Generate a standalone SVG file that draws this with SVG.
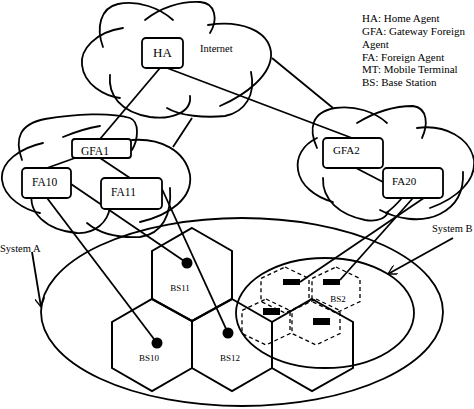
<svg xmlns="http://www.w3.org/2000/svg" width="474" height="409" viewBox="0 0 474 409">
<defs>
<style>
.c{fill:none;stroke:#000;stroke-width:1.8;stroke-linecap:round}
.ln{fill:none;stroke:#000;stroke-width:1.8}
.box{fill:#fff;stroke:#000;stroke-width:1.8}
.hex{fill:none;stroke:#000;stroke-width:2;stroke-linejoin:miter}
.dh{fill:none;stroke:#000;stroke-width:1.3;stroke-dasharray:4 3}
.t{font-family:"Liberation Serif","Times New Roman",serif;fill:#000}
.mt{fill:#000}
</style>
<marker id="oa" viewBox="0 0 10 10" refX="9" refY="5" markerWidth="10" markerHeight="10" markerUnits="userSpaceOnUse" orient="auto">
<path d="M0,0 L9,5 L0,10" fill="none" stroke="#000" stroke-width="1.3"/>
</marker>
</defs>
<rect width="474" height="409" fill="#fff"/>

<g id="clouds">
<g id="cloud-internet">
<path class="c" d="M103,47 C96,28 100,8 118,4 C138,0 160,8 173,20"/>
<path class="c" d="M145,20 C160,8 180,1 200,2 C216,3 218,20 210,33"/>
<path class="c" d="M208,25 C240,20 268,30 271,52 C273,75 245,95 220,106"/>
<path class="c" d="M123,28 C95,32 80,50 82,65 C84,85 105,96 120,98"/>
<path class="c" d="M110,75 C108,95 120,112 150,117 C172,120 192,112 190,96"/>
<path class="c" d="M167,108 C180,116 205,118 225,116 C245,112 256,95 251,72"/>
</g>
<g id="cloud-gfa1">
<path class="c" d="M22,160 C14,138 20,124 45,119 C75,114 110,112 130,118 C140,122 138,140 132,150"/>
<path class="c" d="M63,137 C75,132 88,128 100,126"/>
<path class="c" d="M132,140 C160,138 185,150 190,175 C193,198 170,215 140,222"/>
<path class="c" d="M43,143 C20,148 0,162 2,180 C4,198 25,210 40,213"/>
<path class="c" d="M32,192 C28,212 45,230 77,233 C95,234 108,222 110,207"/>
<path class="c" d="M87,223 C100,234 120,238 140,237 C162,234 172,215 170,188"/>
</g>
<g id="cloud-gfa2">
<path class="c" d="M317,148 C308,128 312,112 335,108 C355,105 375,112 387,123"/>
<path class="c" d="M357,123 C375,112 395,106 413,106 C428,108 428,125 422,138"/>
<path class="c" d="M417,128 C445,124 470,138 474,160 C476,180 458,198 430,208"/>
<path class="c" d="M317,138 C302,145 296,158 298,170 C300,185 315,197 333,202"/>
<path class="c" d="M323,178 C322,200 340,215 365,220 C378,222 386,218 388,212"/>
<path class="c" d="M380,210 C395,218 420,224 440,214 C456,206 464,192 463,172"/>
<path class="c" d="M402,198 C396,205 392,209 386,213"/>
</g>
</g>

<g id="systems">
<ellipse id="system-a" class="ln" cx="242" cy="312" rx="201" ry="94"/>
<ellipse id="system-b" class="ln" cx="325" cy="313" rx="89" ry="55"/>
</g>

<g id="cells">
<polygon id="hex-bs11" class="hex" points="192,228 232,251 232,299 192,321 152,299 152,251"/>
<polygon id="hex-bs10" class="hex" points="152,299 192,321 192,368 152,391 112,368 112,322"/>
<polygon id="hex-bs12" class="hex" points="232,299 272,322 272,368 232,391 192,368 192,321"/>
<polygon id="hex-4" class="hex" points="312,299 353,322 353,368 312,391 272,368 272,322"/>
<polygon id="dhex-1" class="dh" points="285,267 309,278.5 309,301.5 285,313 261,301.5 261,278.5"/>
<polygon id="dhex-bs2" class="dh" points="336,267 360,278.5 360,301.5 336,313 312,301.5 312,278.5"/>
<polygon id="dhex-3" class="dh" points="266,299 290,310.5 290,333.5 266,345 242,333.5 242,310.5"/>
<polygon id="dhex-4" class="dh" points="316,299 340,310.5 340,333.5 316,345 292,333.5 292,310.5"/>
</g>

<g id="connectors">
<line class="ln" x1="160" y1="68" x2="100" y2="139"/>
<line class="ln" x1="167" y1="68" x2="352" y2="138"/>
<line class="ln" x1="272" y1="58" x2="333" y2="108"/>
<line class="ln" x1="192" y1="118" x2="173" y2="147"/>
<line class="ln" x1="47" y1="168" x2="75" y2="158"/>
<line class="ln" x1="100" y1="158" x2="130" y2="178"/>
<line class="ln" x1="356" y1="168" x2="383" y2="182"/>
<line class="ln" x1="71" y1="184" x2="187" y2="263"/>
<line class="ln" x1="47" y1="198" x2="157" y2="343"/>
<line class="ln" x1="162" y1="189" x2="228" y2="333"/>
<line class="ln" x1="443" y1="185" x2="300" y2="282"/>
<line class="ln" x1="413" y1="198" x2="340" y2="280"/>
<line class="ln" x1="32" y1="252" x2="41" y2="307" marker-end="url(#oa)"/>
<line class="ln" x1="453" y1="238" x2="388" y2="274" marker-end="url(#oa)"/>
</g>

<g id="terminals">
<rect class="mt" x="283" y="279" width="17" height="6"/>
<rect class="mt" x="323" y="279" width="17" height="6"/>
<rect class="mt" x="263" y="308" width="17" height="7"/>
<rect class="mt" x="313" y="318" width="17" height="7"/>
<circle class="mt" cx="187" cy="263" r="5.5"/>
<circle class="mt" cx="157" cy="343" r="5.5"/>
<circle class="mt" cx="228" cy="333" r="5.5"/>
</g>

<g id="node-ha">
<rect class="box" x="142" y="38" width="41" height="30" rx="4"/>
<text class="t" x="162.5" y="57" font-size="13" text-anchor="middle">HA</text>
</g>
<g id="node-gfa1">
<rect class="box" x="72" y="139" width="59" height="19" rx="3"/>
<text class="t" x="81" y="155" font-size="11.5">GFA1</text>
</g>
<g id="node-fa10">
<rect class="box" x="22" y="168" width="49" height="30" rx="4"/>
<text class="t" x="32" y="186" font-size="11.5">FA10</text>
</g>
<g id="node-fa11">
<rect class="box" x="101" y="178" width="61" height="31" rx="4"/>
<text class="t" x="111" y="196" font-size="11.5">FA11</text>
</g>
<g id="node-gfa2">
<rect class="box" x="323" y="138" width="60" height="30" rx="4"/>
<text class="t" x="333" y="154" font-size="11">GFA2</text>
</g>
<g id="node-fa20">
<rect class="box" x="383" y="168" width="60" height="30" rx="4"/>
<text class="t" x="392" y="185" font-size="11">FA20</text>
</g>

<g id="labels">
<text class="t" x="200" y="52" font-size="10.5">Internet</text>
<text class="t" x="362" y="22" font-size="11">HA: Home Agent</text>
<text class="t" x="362" y="35" font-size="11">GFA: Gateway Foreign</text>
<text class="t" x="362" y="47.5" font-size="11">Agent</text>
<text class="t" x="362" y="60.5" font-size="11">FA: Foreign Agent</text>
<text class="t" x="362" y="73" font-size="11">MT: Mobile Terminal</text>
<text class="t" x="362" y="86" font-size="11">BS: Base Station</text>
<text class="t" x="0" y="252" font-size="10.5">System A</text>
<text class="t" x="432" y="232" font-size="10.5">System B</text>
<text class="t" x="180" y="291" font-size="9" text-anchor="middle">BS11</text>
<text class="t" x="149" y="361" font-size="9" text-anchor="middle">BS10</text>
<text class="t" x="230" y="361" font-size="9" text-anchor="middle">BS12</text>
<text class="t" x="338" y="302" font-size="9" text-anchor="middle">BS2</text>
</g>
</svg>
